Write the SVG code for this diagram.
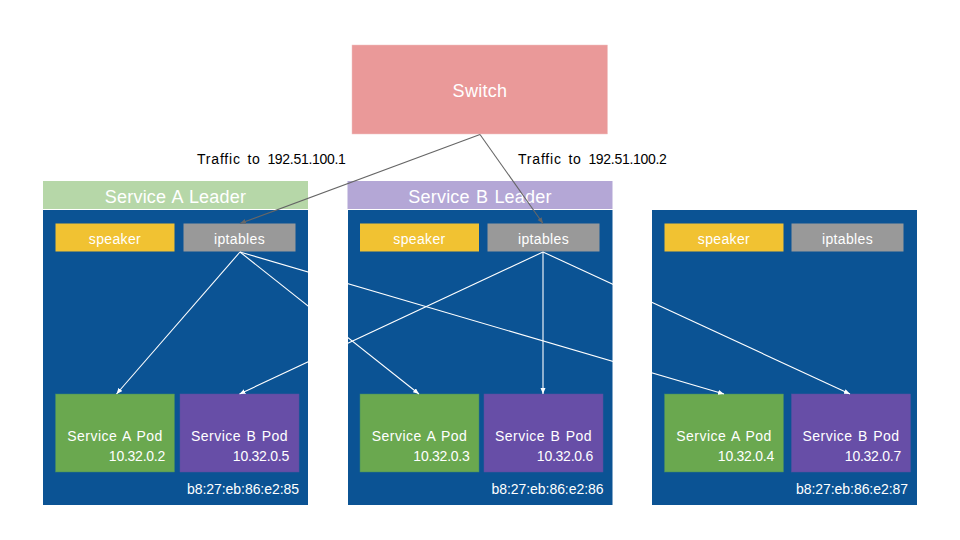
<svg xmlns="http://www.w3.org/2000/svg" width="960" height="540" viewBox="0 0 960 540">
<style>
text{font-family:"Liberation Sans",Arial,sans-serif;fill:#fff}
.host{fill:#0b5394}
.sp{fill:#f1c232}
.ip{fill:#999}
.a{fill:#6aa84f;stroke:#3f8a6a;stroke-width:.5}
.b{fill:#674ea7;stroke:#54509f;stroke-width:.5}
.t{font-size:14px;text-anchor:middle;letter-spacing:.35px}
.p{font-size:14px;text-anchor:middle;letter-spacing:.5px;word-spacing:1px}
.r{font-size:14px;text-anchor:end;letter-spacing:-.25px}
.m{font-size:14px;text-anchor:end;letter-spacing:-.05px}
.h{font-size:18px;text-anchor:middle;letter-spacing:.2px;word-spacing:1px}
.k{font-size:14px;fill:#000;letter-spacing:.8px;word-spacing:2px}
.n{letter-spacing:-.3px}
.w{stroke:#fff;stroke-width:1.100;fill:none;marker-end:url(#mw)}
.d{stroke:#666;stroke-width:1.100;fill:none;marker-end:url(#md)}
</style>
<defs>
<marker id="mw" markerWidth="7" markerHeight="6" refX="6" refY="2.500" orient="auto" markerUnits="userSpaceOnUse"><path d="M0 0L6 2.500L0 5Z" fill="#fff"/></marker>
<marker id="md" markerWidth="7" markerHeight="6" refX="6" refY="2.500" orient="auto" markerUnits="userSpaceOnUse"><path d="M0 0L6 2.500L0 5Z" fill="#666"/></marker>
</defs>
<g id="switch"><rect x="352" y="45" width="255.500" height="89" fill="#ea9999" stroke="#f0c4c4" stroke-width=".5"/><text x="480" y="96.500" font-size="18" letter-spacing=".3" text-anchor="middle">Switch</text></g>
<g id="labelA"><text class="k" x="197" y="163.500">Traffic to <tspan class="n">192.51.100.1</tspan></text></g>
<g id="labelB"><text class="k" x="518" y="163.500">Traffic to <tspan class="n">192.51.100.2</tspan></text></g>
<g id="leaderA"><rect x="43" y="181" width="265" height="28" fill="#b6d7a8"/><text class="h" x="175.500" y="202.500">Service A Leader</text></g>
<g id="leaderB"><rect x="347.500" y="181" width="265" height="28" fill="#b4a7d6"/><text class="h" x="480" y="202.500">Service B Leader</text></g>
<g id="host1"><rect class="host" x="43" y="210" width="265" height="295"/>
<rect class="sp" x="55.500" y="223.500" width="119" height="28"/><text class="t" x="115" y="243.500">speaker</text>
<rect class="ip" x="183.500" y="223.500" width="112" height="28"/><text class="t" x="239.500" y="243.500">iptables</text>
<rect class="a" x="55.500" y="394" width="119" height="78"/><text class="p" x="115" y="440.500">Service A Pod</text><text class="r" x="165" y="460.500">10.32.0.2</text>
<rect class="b" x="180" y="394" width="119" height="78"/><text class="p" x="239.500" y="440.500">Service B Pod</text><text class="r" x="289" y="460.500">10.32.0.5</text>
<text class="m" x="299" y="493.500">b8:27:eb:86:e2:85</text></g>
<g id="host2"><rect class="host" x="348" y="210" width="264.500" height="295"/>
<rect class="sp" x="360" y="223.500" width="119" height="28"/><text class="t" x="419.500" y="243.500">speaker</text>
<rect class="ip" x="487.500" y="223.500" width="112" height="28"/><text class="t" x="543.500" y="243.500">iptables</text>
<rect class="a" x="360" y="394" width="119" height="78"/><text class="p" x="419.500" y="440.500">Service A Pod</text><text class="r" x="469.500" y="460.500">10.32.0.3</text>
<rect class="b" x="484" y="394" width="119" height="78"/><text class="p" x="543.500" y="440.500">Service B Pod</text><text class="r" x="593" y="460.500">10.32.0.6</text>
<text class="m" x="603.500" y="493.500">b8:27:eb:86:e2:86</text></g>
<g id="host3"><rect class="host" x="652" y="210" width="265" height="295"/>
<rect class="sp" x="664.500" y="223.500" width="119" height="28"/><text class="t" x="724" y="243.500">speaker</text>
<rect class="ip" x="791.500" y="223.500" width="112" height="28"/><text class="t" x="847.500" y="243.500">iptables</text>
<rect class="a" x="664.500" y="394" width="119" height="78"/><text class="p" x="724" y="440.500">Service A Pod</text><text class="r" x="774" y="460.500">10.32.0.4</text>
<rect class="b" x="791.500" y="394" width="119" height="78"/><text class="p" x="851" y="440.500">Service B Pod</text><text class="r" x="901" y="460.500">10.32.0.7</text>
<text class="m" x="908" y="493.500">b8:27:eb:86:e2:87</text></g>
<g id="connectors">
<path class="d" d="M480 134.500L240 223.500"/>
<path class="d" d="M480 134.500L543 223.500"/>
<path class="w" d="M240 252L116.500 394"/>
<path class="w" d="M240 252L419 394"/>
<path class="w" d="M240 252L724 394"/>
<path class="w" d="M543 252L239.500 394"/>
<path class="w" d="M543 252L543 394"/>
<path class="w" d="M543 252L850 394"/>
</g>
</svg>
